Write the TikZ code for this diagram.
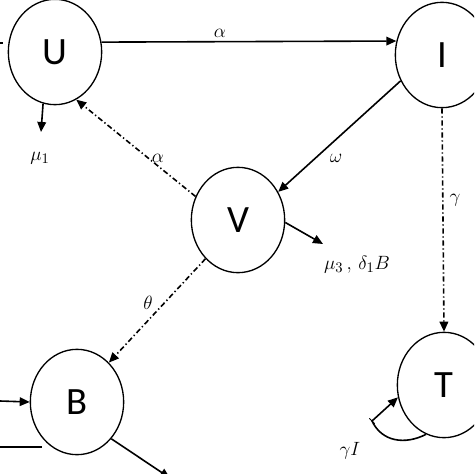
\documentclass[tikz,border=0pt]{standalone}
\usepackage{fontspec}
\newfontfamily\statefont{Carlito}
\usetikzlibrary{arrows.meta,shapes.geometric}

\begin{document}
\begin{tikzpicture}[x=0.75pt,y=0.75pt,yscale=-1,xscale=1,
  state/.style={draw,ellipse,line width=1pt,minimum width=70pt,minimum height=79pt,inner sep=0pt,font=\statefont\fontsize{29}{30}\selectfont},
  flow/.style={line width=1.2pt,-{Triangle[length=7.5pt,width=6.5pt]}},
  dashflow/.style={flow,dash pattern=on 4pt off 2pt on 1pt off 2pt},
  lbl/.style={inner sep=0.75pt,font=\fontsize{15}{17}\selectfont}]
\useasboundingbox (0,0) rectangle (474,474);
\clip (0,0) rectangle (474,474);

% States
\node [state] (U) at (55,52) {U};
\node [state] (I) at (442,55) {I};
\node [state] (V) at (238,220) {V};
\node [state] (B) at (77,402) {B};
\node [state] (T) at (444,385) {T};

% Free ends
\coordinate (uin) at (0,43);
\coordinate (uinend) at (3,43);
\coordinate (uout) at (41,132);
\coordinate (vout) at (323,244);
\coordinate (bin) at (0,401);
\coordinate (bline) at (0,447);
\coordinate (blineend) at (42,447);
\coordinate (bout) at (170,478);
\coordinate (tloop) at (372,421);

% Flows
\draw [flow] (U.12) -- (I.163);
\draw [flow] (I.212) -- (V.35);
\draw [dashflow] (I.south) -- (T.north);
\draw [dashflow] (V.151) -- (U.294);
\draw [dashflow] (V.230) -- (B.51);
\draw [flow] (U.257) -- (uout);
\draw [flow] (V.-3) -- (vout);
\draw [flow] (B.313) -- (bout);
\draw [flow] (bin) -- (B.west);
\draw [line width=1.2pt] (bline) -- (blineend);
\draw [line width=1.2pt] (uin) -- (uinend);
%self loop of T
\draw [flow] (T.250) .. controls (405,445) and (382,442) .. (tloop) -- (T.195);
\draw [line width=0.6pt] ([shift={(-2pt,-2pt)}]tloop) -- ([shift={(2pt,2pt)}]tloop);

% Text Node
\node [lbl] (alphatop) at (220,33) {$\alpha$};
\node [lbl] (alphamid) at (158,158) {$\alpha$};
\node [lbl] (omega) at (336,158) {$\omega$};
\node [lbl] (gamma) at (455,200) {$\gamma$};
\node [lbl] (theta) at (148,303) {$\theta$};
\node [lbl] (mu1) at (40,158) {$\mu_1$};
\node [lbl] (mu3) at (357,265) {$\mu_3\,,\,\delta_1 B$};
\node [lbl] (gammaI) at (350,451) {$\gamma I$};

\end{tikzpicture}
\end{document}
